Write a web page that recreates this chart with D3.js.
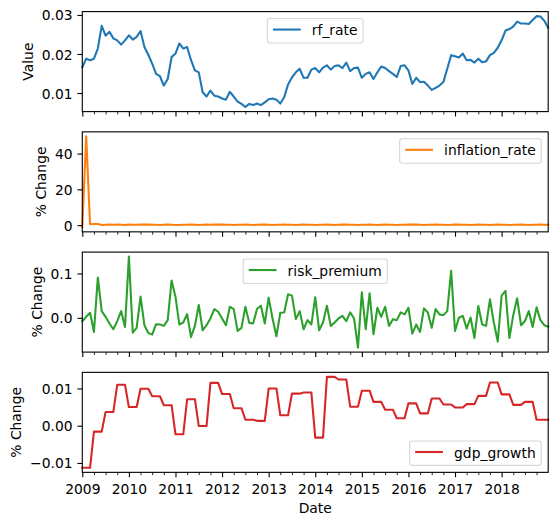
<!DOCTYPE html>
<html><head><meta charset="utf-8">
<script src="https://cdn.jsdelivr.net/npm/d3@7"></script>
<style>body{margin:0;background:#fff} svg{display:block} text{font-family:"DejaVu Sans",sans-serif}</style>
</head><body><svg id="c" width="556" height="526"></svg>
<script>
// ---- data (monthly, 2009-01 .. 2019-01) ----
const yearLabels = ["2009","2010","2011","2012","2013","2014","2015","2016","2017","2018"];
const rf_rate = [
 0.0166,0.0188,0.0184,0.0188,0.0214,0.0272,0.0247,0.0257,0.0240,0.0235,0.0224,0.0235,
 0.0248,0.0237,0.0244,0.0259,0.0218,0.0198,0.0175,0.0149,0.0143,0.0119,0.0136,0.0192,
 0.0201,0.0227,0.0214,0.0218,0.0184,0.0158,0.0153,0.0102,0.0091,0.0106,0.0093,0.0091,
 0.0086,0.0083,0.0103,0.0091,0.0078,0.0072,0.0064,0.0072,0.0069,0.0073,0.0069,0.0076,
 0.0084,0.0086,0.0083,0.0073,0.0089,0.0122,0.0140,0.0153,0.0162,0.0139,0.0139,0.0160,
 0.0164,0.0153,0.0165,0.0171,0.0160,0.0169,0.0171,0.0164,0.0178,0.0156,0.0164,0.0165,
 0.0139,0.0149,0.0153,0.0136,0.0153,0.0168,0.0164,0.0156,0.0149,0.0141,0.0169,0.0171,
 0.0158,0.0123,0.0139,0.0128,0.0129,0.0119,0.0108,0.0113,0.0119,0.0128,0.0162,0.0197,
 0.0194,0.0191,0.0201,0.0184,0.0185,0.0178,0.0188,0.0179,0.0181,0.0197,0.0203,0.0216,
 0.0235,0.0260,0.0264,0.0270,0.0283,0.0278,0.0278,0.0277,0.0287,0.0297,0.0296,0.0285,
 0.0267];
const inflation_rate = [
 -1.2,49.6,0.5,0.6,0.6,0.1,0.2,0.3,0.2,0.3,0.2,0.1,
 0.3,0.2,0.2,0.3,0.4,0.3,0.2,0.2,0.1,0.2,0.3,0.2,
 0.1,0.1,0.2,0.2,0.3,0.2,0.1,0.2,0.3,0.2,0.3,0.4,
 0.3,0.2,0.2,0.1,0.2,0.2,0.3,0.2,0.1,0.2,0.3,0.3,
 0.2,0.1,0.2,0.2,0.3,0.2,0.2,0.1,0.2,0.3,0.2,0.2,
 0.1,0.2,0.2,0.3,0.2,0.1,0.2,0.3,0.3,0.2,0.2,0.1,
 0.2,0.2,0.3,0.2,0.1,0.2,0.3,0.2,0.2,0.1,0.2,0.2,
 0.3,0.4,0.3,0.2,0.1,0.2,0.2,0.3,0.2,0.2,0.1,0.2,
 0.4,0.3,0.2,0.2,0.1,0.2,0.3,0.2,0.2,0.1,0.2,0.3,
 0.2,0.2,0.1,0.2,0.2,0.3,0.2,0.1,0.2,0.2,0.3,0.2,
 0.2];
const risk_premium = [
 -0.0075,0.0023,0.0114,-0.0317,0.0910,0.0152,0.0023,-0.0128,-0.0257,-0.0075,0.0152,-0.0204,
 0.1380,-0.0333,-0.0226,0.0478,-0.0166,-0.0340,-0.0378,-0.0143,-0.0151,-0.0181,-0.0052,0.0842,
 0.0478,-0.0151,-0.0105,0.0084,-0.0431,-0.0181,0.0289,-0.0280,-0.0166,-0.0014,0.0198,0.0137,
 -0.0014,-0.0166,0.0251,0.0198,-0.0295,-0.0226,0.0251,-0.0113,-0.0128,0.0198,0.0273,-0.0128,
 0.0455,-0.0014,-0.0416,0.0114,0.0122,0.0531,0.0501,-0.0030,0.0152,-0.0257,-0.0052,-0.0151,
 0.0465,-0.0280,-0.0105,0.0273,-0.0181,-0.0105,-0.0014,0.0046,-0.0075,0.0122,-0.0014,-0.0670,
 0.0577,-0.0257,0.0554,-0.0370,0.0228,0.0023,0.0251,-0.0181,-0.0030,-0.0052,0.0122,0.0077,
 0.0228,-0.0355,-0.0151,-0.0317,0.0213,0.0122,-0.0226,0.0198,0.0077,0.0061,0.0152,0.1061,
 -0.0295,0.0001,0.0046,-0.0242,0.0008,-0.0454,0.0266,-0.0151,-0.0181,0.0417,-0.0105,-0.0537,
 0.0501,0.0607,-0.0454,0.0061,0.0440,-0.0166,-0.0075,0.0152,-0.0204,0.0236,-0.0052,-0.0166,
 -0.0200];
const gdp_growth = [
 -0.0113,-0.0113,-0.0113,-0.0016,-0.0016,-0.0016,0.0037,0.0037,0.0037,0.0110,0.0110,0.0110,
 0.0050,0.0050,0.0050,0.0099,0.0099,0.0099,0.0079,0.0079,0.0079,0.0055,0.0055,0.0055,
 -0.0023,-0.0023,-0.0023,0.0071,0.0071,0.0071,-0.0001,-0.0001,-0.0001,0.0115,0.0115,0.0115,
 0.0085,0.0085,0.0085,0.0047,0.0047,0.0047,0.0016,0.0016,0.0016,0.0013,0.0013,0.0013,
 0.0100,0.0100,0.0100,0.0028,0.0028,0.0028,0.0086,0.0086,0.0086,0.0089,0.0089,0.0089,
 -0.0032,-0.0032,-0.0032,0.0131,0.0131,0.0131,0.0124,0.0124,0.0124,0.0051,0.0051,0.0051,
 0.0094,0.0094,0.0094,0.0064,0.0064,0.0064,0.0043,0.0043,0.0043,0.0020,0.0020,0.0020,
 0.0060,0.0060,0.0060,0.0033,0.0033,0.0033,0.0073,0.0073,0.0073,0.0057,0.0057,0.0057,
 0.0049,0.0049,0.0049,0.0058,0.0058,0.0058,0.0080,0.0080,0.0080,0.0116,0.0116,0.0116,
 0.0084,0.0084,0.0084,0.0056,0.0056,0.0056,0.0064,0.0064,0.0064,0.0016,0.0016,0.0016,
 0.0016];
const seriesNames = ["rf_rate","inflation_rate","risk_premium","gdp_growth"];
const yAxisLabels = ["Value","% Change","% Change","% Change"];
const yTickValues = [[0.01,0.02,0.03],[0,20,40],[0.0,0.1],[-0.01,0.00,0.01]];
const yTickFormats = [".2f","d",".1f",".2f"];
const xLabel = "Date";

// ---- styles / layout ----
const colors = ["#1f77b4","#ff7f0e","#2ca02c","#d62728"];
const legendLocs = ["upper center","upper right","upper center","lower right"];
const FS = 13.89;
const L = 82.3, R = 548.2, T0 = 11.6, STEP = 120.25, PH = 100;

const svg = d3.select("#c");
svg.append("rect").attr("width",556).attr("height",526).attr("fill","#fff");

const seriesList = [rf_rate, inflation_rate, risk_premium, gdp_growth];
const n = rf_rate.length;
const x = d3.scaleLinear().domain([0, n-1]).range([L, R]);
const majorIdx = d3.range(0, n-1, 12);
const minorIdx = d3.range(0, n-1, 3).filter(i => i % 12 !== 0);

seriesList.forEach((vals, k) => {
  const top = T0 + k*STEP, bot = top + PH;
  const ext = d3.extent(vals), pad = (ext[1]-ext[0])*0.05;
  const y = d3.scaleLinear().domain([ext[0]-pad, ext[1]+pad]).range([bot, top]);
  const g = svg.append("g");

  g.append("path").datum(vals)
    .attr("d", d3.line().x((d,i)=>x(i)).y(d=>y(d)))
    .attr("fill","none").attr("stroke",colors[k]).attr("stroke-width",2.08)
    .attr("stroke-linejoin","round").attr("stroke-linecap","square");

  // y axis
  const ya = g.append("g").attr("transform",`translate(${L},0)`)
    .call(d3.axisLeft(y).tickValues(yTickValues[k]).tickFormat(d3.format(yTickFormats[k])).tickSize(4.86).tickPadding(4.86));
  ya.select(".domain").remove();
  ya.attr("font-family","DejaVu Sans").attr("font-size",FS);
  ya.selectAll("line").attr("stroke","#000").attr("stroke-width",1.11);
  ya.selectAll("text").attr("fill","#000").attr("dy","0.36em");

  // x axis major
  const xa = g.append("g").attr("transform",`translate(0,${bot})`)
    .call(d3.axisBottom(x).tickValues(majorIdx).tickSize(4.86)
      .tickFormat(k===3 ? (i => yearLabels[i/12]) : (() => "")));
  xa.select(".domain").remove();
  xa.attr("font-family","DejaVu Sans").attr("font-size",FS);
  xa.selectAll("line").attr("stroke","#000").attr("stroke-width",1.11);
  xa.selectAll("text").attr("fill","#000").attr("y",21.3).attr("dy","0");
  // x axis minor
  const xm = g.append("g").attr("transform",`translate(0,${bot})`)
    .call(d3.axisBottom(x).tickValues(minorIdx).tickSize(2.78).tickFormat(() => ""));
  xm.select(".domain").remove();
  xm.selectAll("line").attr("stroke","#000").attr("stroke-width",0.83);

  // spines
  g.append("rect").attr("x",L).attr("y",top).attr("width",R-L).attr("height",PH)
    .attr("fill","none").attr("stroke","#000").attr("stroke-width",1.11);

  // y label
  const bb = ya.node().getBBox();
  const tickLeft = L + bb.x;
  svg.append("text").attr("transform",`translate(${tickLeft-8.86},${(top+bot)/2}) rotate(-90)`)
    .attr("text-anchor","middle").attr("font-size",FS).attr("fill","#000").text(yAxisLabels[k]);

  // legend
  const lg = g.append("g");
  const frame = lg.append("rect");
  const txt = lg.append("text").attr("font-size",FS).attr("fill","#000").text(seriesNames[k]);
  const tw = txt.node().getComputedTextLength();
  const bw = 2*5.56 + 27.78 + 11.11 + tw, bh = 24.4;
  let bx, by;
  if (legendLocs[k] === "upper center") { bx = (L+R)/2 - bw/2; by = top + 6.95; }
  else if (legendLocs[k] === "upper right") { bx = R - 6.95 - bw; by = top + 6.95; }
  else { bx = R - 6.95 - bw; by = bot - 6.95 - bh; }
  frame.attr("x",bx).attr("y",by).attr("width",bw).attr("height",bh).attr("rx",2.78)
    .attr("fill","#fff").attr("fill-opacity",0.8).attr("stroke","#cccccc").attr("stroke-opacity",0.8).attr("stroke-width",1.1);
  lg.append("line").attr("x1",bx+5.56).attr("x2",bx+5.56+27.78).attr("y1",by+11).attr("y2",by+11)
    .attr("stroke",colors[k]).attr("stroke-width",2.08);
  txt.attr("x",bx+5.56+27.78+11.11).attr("y",by+16.5);
});

svg.append("text").attr("x",(L+R)/2).attr("y",512.7).attr("text-anchor","middle")
  .attr("font-size",FS).attr("fill","#000").text(xLabel);
</script></body></html>
